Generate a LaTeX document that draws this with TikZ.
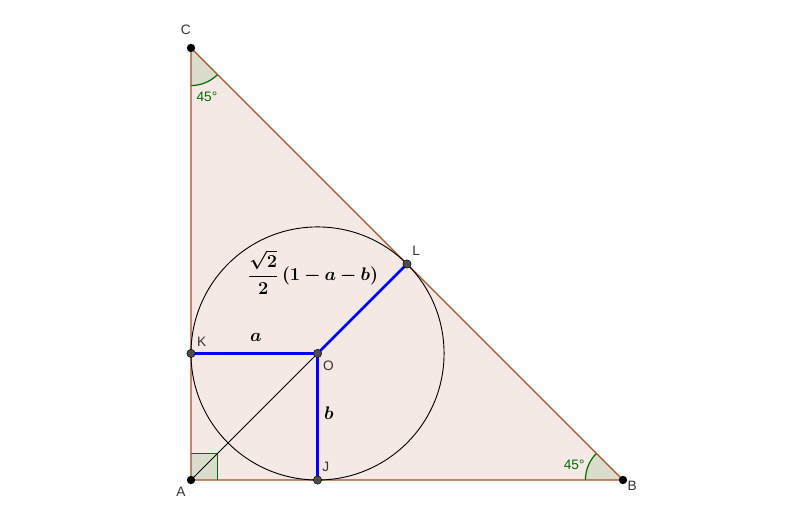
\documentclass[tikz,border=0pt]{standalone}
\usepackage{fontspec}
\usepackage{amsmath,bm}
\newfontfamily\lblfont{Liberation Sans}
\definecolor{sidebrown}{RGB}{170,80,35}
\definecolor{trifill}{RGB}{244,233,229}
\definecolor{angfill}{RGB}{218,220,204}
\definecolor{anggreen}{RGB}{0,110,0}
\definecolor{ptgrey}{RGB}{77,77,77}

\begin{document}
\begin{tikzpicture}[
    x=1cm, y=1cm,
    side/.style={draw=sidebrown, line width=0.8pt},
    vinkel/.style={fill=angfill, draw=anggreen, line width=0.8pt},
    rline/.style={draw=blue, line width=1.8pt},
    punkt/.style={circle, fill=black, inner sep=0pt, minimum size=5.5pt},
    gpunkt/.style={circle, fill=ptgrey, draw=black, line width=0.3pt, inner sep=0pt, minimum size=5.5pt},
    lbl/.style={font=\lblfont\fontsize{9}{10}\selectfont, text=black!80, inner sep=1pt},
    grad/.style={font=\lblfont\fontsize{9}{10}\selectfont, text=anggreen, inner sep=1pt}
    ]
\useasboundingbox (-4.421,-0.880) rectangle (14.074,11.111);

% corners and touching points
\coordinate (A) at (0,0);
\coordinate (B) at (10,0);
\coordinate (C) at (0,10);
\coordinate (O) at (2.929,2.929);
\coordinate (K) at (0,2.929);
\coordinate (J) at (2.929,0);
\coordinate (L) at (5,5);

% triangle area
\fill[trifill] (A) -- (B) -- (C) -- cycle;

% angles
\fill[angfill] (C) -- ++(-90:0.87) arc[start angle=-90, end angle=-45, radius=0.87] -- cycle;
\draw[anggreen, line width=0.8pt] ([shift={(-90:0.87)}]C) arc[start angle=-90, end angle=-45, radius=0.87];
\fill[angfill] (B) -- ++(180:0.87) arc[start angle=180, end angle=135, radius=0.87] -- cycle;
\draw[anggreen, line width=0.8pt] ([shift={(180:0.87)}]B) arc[start angle=180, end angle=135, radius=0.87];
\fill[angfill] (A) rectangle (0.61,0.61);
\draw[anggreen, line width=0.8pt] (0,0.61) -- (0.61,0.61) -- (0.61,0);

% sides
\draw[side] (A) -- (B) -- (C) -- cycle;

% incircle
\draw[black, line width=0.6pt] (O) circle[radius=2.929];
\draw[black, line width=0.5pt] (A) -- (O);

% radii
\draw[rline] (K) -- (O);
\draw[rline] (J) -- (O);
\draw[rline] (L) -- (O);

% points
\node[punkt] (pA) at (A) {};
\node[punkt] (pB) at (B) {};
\node[punkt] (pC) at (C) {};
\node[gpunkt] (pK) at (K) {};
\node[gpunkt] (pJ) at (J) {};
\node[gpunkt] (pL) at (L) {};
\node[gpunkt] (pO) at (O) {};

% point names
\node[lbl] (nA) at ([shift={(-0.23,-0.28)}]A) {A};
\node[lbl] (nB) at ([shift={(0.21,-0.14)}]B) {B};
\node[lbl] (nC) at ([shift={(-0.12,0.42)}]C) {C};
\node[lbl] (nK) at ([shift={(0.25,0.28)}]K) {K};
\node[lbl] (nL) at ([shift={(0.21,0.30)}]L) {L};
\node[lbl] (nO) at ([shift={(0.25,-0.28)}]O) {O};
\node[lbl] (nJ) at ([shift={(0.19,0.30)}]J) {J};

% angle values
\node[grad] (gC) at ([shift={(0.37,-1.13)}]C) {45°};
\node[grad] (gB) at ([shift={(-1.13,0.35)}]B) {45°};

% lengths
\node (la) at (1.50,3.29) {\large$\bm{a}$};
\node (lb) at (3.19,1.55) {\large$\bm{b}$};
\node (lr) at (2.82,4.81) {\large$\displaystyle\bm{\frac{\sqrt{2}}{2}\,(1-a-b)}$};
\end{tikzpicture}
\end{document}
